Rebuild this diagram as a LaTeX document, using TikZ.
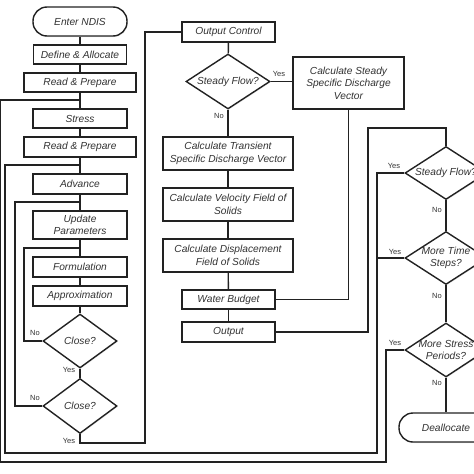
\documentclass[tikz,border=0pt]{standalone}
\usepackage{fontspec}
\newfontfamily\lib{Liberation Sans}
\usetikzlibrary{shapes.geometric,shadows}
\definecolor{ln}{HTML}{222222}
\definecolor{tx}{HTML}{333333}
\tikzset{
  base/.style={draw=ln, line width=1.4pt, fill=white, inner sep=0pt, align=center,
    text=tx, font=\lib\itshape\fontsize{10.2}{12.6}\selectfont,
    drop shadow={opacity=0.18, shadow xshift=0.8pt, shadow yshift=-1pt}},
  box/.style={base, rectangle},
  term/.style={base, rectangle, rounded corners=14pt, minimum width=94pt, minimum height=29pt},
  dia/.style={base, diamond},
  dtxt/.style={text=tx, align=center, font=\lib\itshape\fontsize{10.2}{12.6}\selectfont},
  lab/.style={text=tx, font=\lib\fontsize{7.5}{9}\selectfont, inner sep=0pt},
  con/.style={draw=ln, line width=1.4pt},
}
\begin{document}
\begin{tikzpicture}[x=1pt,y=-1pt]
\useasboundingbox (0,0) rectangle (474,474);
% left column
\node[term] (enter) at (80,21.5) {Enter NDIS};
\node[box, minimum width=93pt, minimum height=19pt] (def) at (80,54.5) {Define \& Allocate};
\node[box, minimum width=112pt, minimum height=19pt] (rp1) at (80,82.5) {Read \& Prepare};
\node[box, minimum width=94pt, minimum height=19pt] (stress) at (80,118.5) {Stress};
\node[box, minimum width=112pt, minimum height=20pt] (rp2) at (80,147) {Read \& Prepare};
\node[box, minimum width=94pt, minimum height=20pt] (adv) at (80,184) {Advance};
\node[box, minimum width=94pt, minimum height=28pt] (upd) at (80,225) {Update\\Parameters};
\node[box, minimum width=94pt, minimum height=20pt] (form) at (80,267) {Formulation};
\node[box, minimum width=94pt, minimum height=20pt] (appr) at (80,296) {Approximation};
\node[dia, minimum width=74pt, minimum height=54pt] (c1) at (80,341) {};
\node[dtxt] (c1t) at (c1.center) {Close?};
\node[dia, minimum width=74pt, minimum height=55pt] (c2) at (80,406) {};
\node[dtxt] (c2t) at (c2.center) {Close?};
% middle column
\node[box, minimum width=93pt, minimum height=20pt] (oc) at (228.5,32) {Output Control};
\node[dia, minimum width=84pt, minimum height=55pt] (sf1) at (228,81.5) {};
\node[dtxt] (sf1t) at (sf1.center) {Steady Flow?};
\node[box, minimum width=111pt, minimum height=52pt] (cs) at (348.5,83) {Calculate Steady\\Specific Discharge\\Vector};
\node[box, minimum width=130pt, minimum height=33pt] (ct) at (228,153.5) {Calculate Transient\\Specific Discharge Vector};
\node[box, minimum width=130pt, minimum height=33pt] (cv) at (228,204.5) {Calculate Velocity Field of\\Solids};
\node[box, minimum width=130pt, minimum height=33pt] (cd) at (228,255.5) {Calculate Displacement\\Field of Solids};
\node[box, minimum width=93pt, minimum height=19pt] (wb) at (228.5,299.5) {Water Budget};
\node[box, minimum width=93pt, minimum height=20pt] (out) at (228.5,332) {Output};
% right column
\node[dia, minimum width=82pt, minimum height=53pt] (sf2) at (446,173) {};
\node[dtxt] (sf2t) at (sf2.center) {Steady Flow?};
\node[dia, minimum width=82pt, minimum height=53pt] (mt) at (446,258) {};
\node[dtxt] (mtt) at (mt.center) {More Time\\Steps?};
\node[dia, minimum width=82pt, minimum height=54pt] (ms) at (446,350) {};
\node[dtxt] (mst) at (ms.center) {More Stress\\Periods?};
\node[term] (deal) at (446,427.5) {Deallocate};
% coordinates
\coordinate (j4) at (80,100);
\coordinate (j3) at (80,165);
\coordinate (j2) at (80,202);
\coordinate (j1) at (80,248);
\coordinate (k1) at (145,443);
\coordinate (k2) at (368,128);
\coordinate (k3) at (377,453);
\coordinate (k4) at (5,453);
\coordinate (k5) at (386,462);
\coordinate (k6) at (0,462);
\coordinate (k7) at (24,341);
\coordinate (k8) at (15,406);
% connectors
\draw[con] (enter) -- (def);
\draw[con] (def) -- (rp1);
\draw[con] (rp1) -- (stress);
\draw[con] (stress) -- (rp2);
\draw[con] (rp2) -- (adv);
\draw[con] (adv) -- (upd);
\draw[con] (upd) -- (form);
\draw[con] (form) -- (appr);
\draw[con] (appr) -- (c1);
\draw[con] (c1) -- (c2);
\draw[con] (c1.west) -- (k7) |- (j1);
\draw[con] (c2.west) -- (k8) |- (j2);
\draw[con] (c2.south) |- (k1) |- (oc.west);
\draw[con] (oc) -- (sf1);
\draw[con] (sf1.east) -- (cs.west |- sf1.east);
\draw[con] (sf1) -- (ct);
\draw[con] (ct) -- (cv);
\draw[con] (cv) -- (cd);
\draw[con] (cd) -- (wb);
\draw[con] (wb) -- (out);
\draw[con] (cs.south) |- (wb.east);
\draw[con] (out.east) -| (k2) -| (sf2.north);
\draw[con] (sf2.west) -| (k3) -- (k4) |- (j3);
\draw[con] (mt.west) -- (k3 |- mt.west);
\draw[con] (ms.west) -| (k5) -- (k6) |- (j4);
\draw[con] (sf2) -- (mt);
\draw[con] (mt) -- (ms);
\draw[con] (ms) -- (deal);
% labels
\node[lab] (l1) at (35,333) {No};
\node[lab] (l2) at (69,370) {Yes};
\node[lab] (l3) at (35,398) {No};
\node[lab] (l4) at (69,441) {Yes};
\node[lab] (l5) at (279,74) {Yes};
\node[lab] (l6) at (219,116) {No};
\node[lab] (l7) at (394,166) {Yes};
\node[lab] (l8) at (437,210) {No};
\node[lab] (l9) at (395,252) {Yes};
\node[lab] (l10) at (437,296) {No};
\node[lab] (l11) at (395,343) {Yes};
\node[lab] (l12) at (437,383) {No};
\end{tikzpicture}
\end{document}
